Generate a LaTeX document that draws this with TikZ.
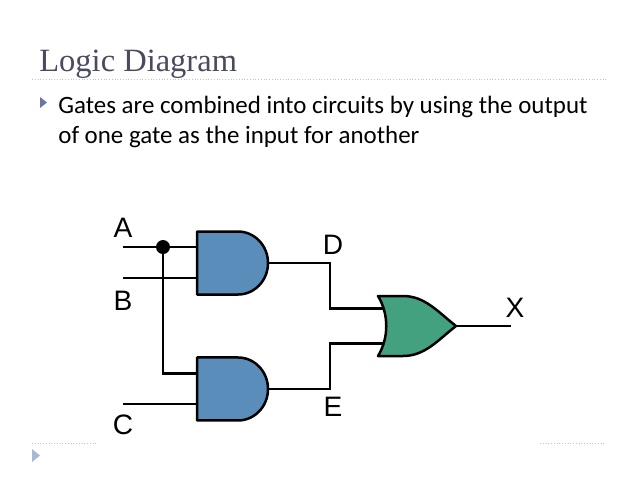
\documentclass[tikz,border=0pt]{standalone}
\usepackage{fontspec}
\usepackage{xcolor}
\setmainfont{Carlito}
\newfontfamily\titlefont{Liberation Serif}
\newfontfamily\labelfont{Liberation Sans}
\usetikzlibrary{positioning}

\definecolor{titlegray}{HTML}{4A4A60}
\definecolor{rulegray}{HTML}{B5C3D3}
\definecolor{bulletblue}{HTML}{6C75A5}
\definecolor{cornerblue}{HTML}{A5BBD3}
\definecolor{andblue}{HTML}{5A8DB9}
\definecolor{orgreen}{HTML}{44A17F}

% Gate outlines round a plain node
\newcommand{\andoutline}[1]{\filldraw [gateline, fill=andblue] (#1.north west) -- ++(41,0) arc[start angle=-90, end angle=90, x radius=30, y radius=31.5] -- (#1.south west) -- cycle;}
\newcommand{\oroutline}[1]{\filldraw [gateline, fill=orgreen] (#1.north west) -- ([xshift=0.5cm]#1.north west) .. controls +(22,0) and +(-18,-14) .. (#1.east) .. controls +(-18,14) and +(22,0) .. ([xshift=0.5cm]#1.south west) -- (#1.south west) .. controls +(11,-18) and +(11,18) .. (#1.north west) -- cycle;}

\begin{document}
\begin{tikzpicture}[
    x=0.02cm, y=-0.02cm,
    andgate/.style={rectangle, inner sep=0pt, outer sep=0pt, minimum width=1.42cm, minimum height=1.26cm},
    orgate/.style={rectangle, inner sep=0pt, outer sep=0pt, minimum width=1.56cm, minimum height=1.2cm},
    gateline/.style={line width=0.05cm, line join=round},
    wire/.style={draw, line width=0.05cm},
    letter/.style={font=\labelfont\fontsize{16}{16}\selectfont, inner sep=0pt},
    rulerline/.style={draw=rulegray, densely dotted, line width=0.02cm}
]
    \useasboundingbox (0,0) rectangle (638,478);

    % Heading and text
    \node [anchor=base west, inner sep=0pt, text=titlegray, font=\titlefont\fontsize{18.5}{18.5}\selectfont] (title) at (39,71) {Logic Diagram};
    \path [rulerline] (32,79) -- (606,79);
    \fill [bulletblue] (40,97) -- (47,102.5) -- (40,108) -- cycle;
    \node [anchor=base west, inner sep=0pt, font=\fontsize{14.2}{14.2}\selectfont] (line1) at (58,113) {Gates are combined into circuits by using the output};
    \node [anchor=base west, inner sep=0pt, font=\fontsize{14.2}{14.2}\selectfont] (line2) at (58,143) {of one gate as the input for another};

    % Gates
    \node [andgate] (and1) at (232.5,263) {};
    \node [andgate, below=1.26cm of and1] (and2) {};
    \node [orgate] (or1) at (417,326) {};

    % Junction and free ends
    \node [circle, fill=black, inner sep=0pt, minimum size=0.28cm] (dot) at (163,247) {};
    \coordinate (a) at (123,247);
    \coordinate (b) at (123,278);
    \coordinate (c) at (123,404);
    \coordinate (x) at (511,326);
    \coordinate (d) at (330,263);
    \coordinate (e) at (d |- and2.east);

    % Letters
    \node [letter] (la) at (123,228) {A};
    \node [letter] (lb) at (123,301) {B};
    \node [letter] (lc) at (123,425) {C};
    \node [letter] (ld) at (333,245) {D};
    \node [letter] (le) at (333,407) {E};
    \node [letter] (lx) at (515,308) {X};

    % Wires
    \path [wire] (a) -- (dot) -- (a -| and1.west);
    \path [wire] (b) -- (b -| and1.west);
    \path [wire] (dot) |- ([yshift=0.31cm]and2.west);
    \path [wire] (c) -- (c -| and2.west);
    \path [wire] (and1.east) -- (d) |- ([xshift=0.16cm, yshift=0.35cm]or1.west);
    \path [wire] (and2.east) -- (e) |- ([xshift=0.16cm, yshift=-0.35cm]or1.west);
    \path [wire] (or1.east) -- (x);

    % Gate bodies
    \andoutline{and1}
    \andoutline{and2}
    \oroutline{or1}

    % Footer
    \path [rulerline] (32,443) -- (98,443);
    \path [rulerline] (540,443) -- (606,443);
    \fill [cornerblue] (32,449) -- (40,455.5) -- (32,462) -- cycle;
\end{tikzpicture}
\end{document}
